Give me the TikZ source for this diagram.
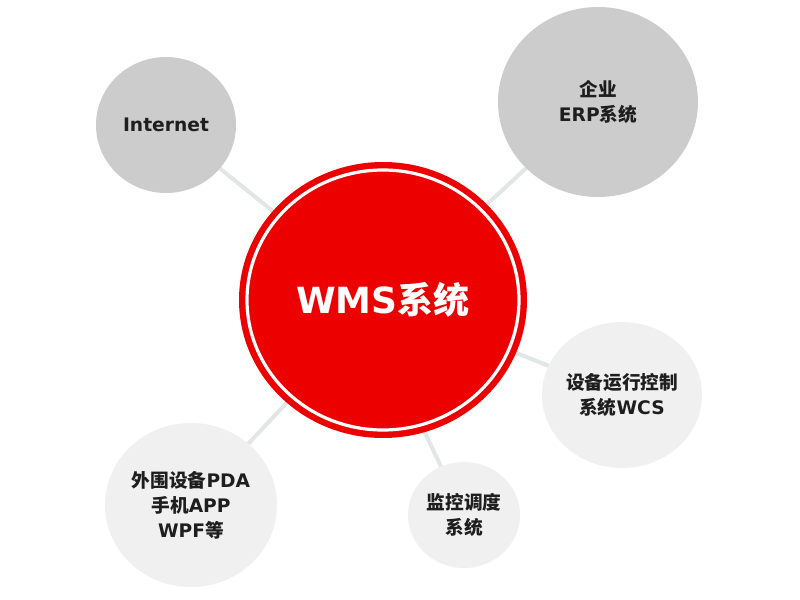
\documentclass[tikz,border=0pt]{standalone}
\usepackage{fontspec}
\setmainfont{DejaVu Sans}
\newfontfamily\cjk{Noto Sans CJK SC}
\newcommand\zh[1]{{\cjk\bfseries #1}}
\usetikzlibrary{shapes.geometric,backgrounds}
\definecolor{wmsred}{HTML}{EC0000}
\definecolor{darkgray}{HTML}{CCCCCC}
\definecolor{lightgray}{HTML}{F0F0F0}
\definecolor{connc}{HTML}{E2E6E6}
\definecolor{txt}{HTML}{1E1E1E}
\begin{document}
\begin{tikzpicture}[x=0.75pt,y=-0.75pt,
  sat/.style={ellipse,inner sep=0pt,align=center,text=txt,
    font=\bfseries\fontsize{14}{18.75}\selectfont},
  conn/.style={draw=connc,line width=3pt}]
\useasboundingbox (0,0) rectangle (800,600);
\node[ellipse,fill=wmsred,minimum width=216pt,minimum height=207pt,inner sep=0pt,
  text=white,font=\bfseries\fontsize{27}{32}\selectfont] (wms) at (383,300) {WMS\zh{系统}};
\draw[white,line width=2.4pt] (wms.center) ellipse [x radius=102pt,y radius=97.5pt];
\node[sat,fill=darkgray,minimum width=105pt,minimum height=102pt] (inet) at (166,125) {Internet};
\node[sat,fill=darkgray,minimum width=150pt,minimum height=142.5pt] (erp) at (598,102) {\zh{企业}\\ERP\zh{系统}};
\node[sat,fill=lightgray,minimum width=120pt,minimum height=109.5pt] (wcs) at (622,395) {\zh{设备运行控制}\\\zh{系统}WCS};
\node[sat,fill=lightgray,minimum width=129pt,minimum height=123pt] (pda) at (191,505) {\zh{外围设备}PDA\\\zh{手机}APP\\WPF\zh{等}};
\node[sat,fill=lightgray,minimum width=84pt,minimum height=79.5pt] (mon) at (464,515) {\zh{监控调度}\\\zh{系统}};
\coordinate (monend) at (362,300);
\begin{scope}[on background layer]
\fill[white] (0,0) rectangle (800,600);
\draw[conn] (inet.center) -- (wms.center);
\draw[conn] (erp.center) -- (wms.center);
\draw[conn] (wcs.center) -- (wms.center);
\draw[conn] (pda.center) -- (wms.center);
\draw[conn] (mon.center) -- (monend);
\end{scope}
\end{tikzpicture}
\end{document}
